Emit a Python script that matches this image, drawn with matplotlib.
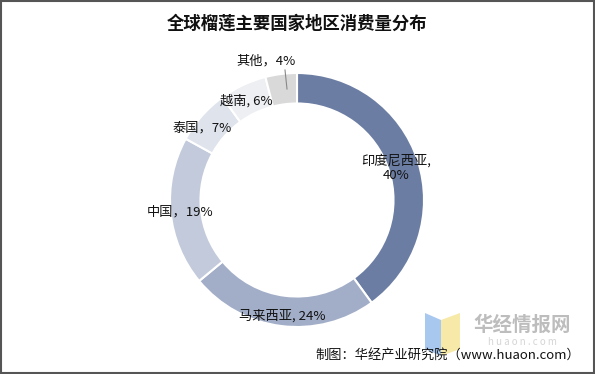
import matplotlib
matplotlib.use("Agg")
import matplotlib.pyplot as plt
from matplotlib.patches import Rectangle, Polygon

plt.rcParams['font.family'] = ['Noto Sans CJK SC', 'DejaVu Sans']

# 数据
paises = ['印度尼西亚', '马来西亚', '中国', '泰国', '越南', '其他']
valores = [40, 24, 19, 7, 6, 4]
cores = ['#6B7DA3', '#A2AEC7', '#C3CADB', '#DFE3EC', '#EEEFF3', '#D9D9D9']

W, H = 595, 374
fig = plt.figure(figsize=(W / 100, H / 100), dpi=100)

# donut: centro (297, 200) px, raio 127 px
cx, cy, R = 297, 200, 127
ax = fig.add_axes([(cx - R) / W, (H - cy - R) / H, 2 * R / W, 2 * R / H])
ax.pie(valores, colors=cores, startangle=90, counterclock=False, radius=1,
       wedgeprops=dict(width=0.24, edgecolor='white', linewidth=1.5))
ax.set_xlim(-1, 1)
ax.set_ylim(-1, 1)
ax.set_aspect('equal')
ax.axis('off')

def px(x, y):
    return x / W, 1 - y / H

# rotulos
rotulos = [
    ('印度尼西亚,\n40%', 396, 168, 'center'),
    ('马来西亚, 24%', 282, 316, 'center'),
    ('中国，19%', 180, 212, 'center'),
    ('泰国，7%', 202, 128, 'center'),
    ('越南, 6%', 246, 101, 'center'),
    ('其他，4%', 266, 61, 'center'),
]
for txt, x, y, ha in rotulos:
    fig.text(*px(x, y), txt, ha=ha, va='center', fontsize=9.5,
             color='#111111', linespacing=1.2)

# linha guia "其他"
fig.add_artist(plt.Line2D([285 / W, 287 / W], [1 - 70 / H, 1 - 89 / H],
                          color='#888888', linewidth=0.8))

# titulo
fig.text(*px(297, 24), '全球榴莲主要国家地区消费量分布', ha='center', va='center',
         fontsize=12.5, fontweight='bold', color='#111111')

# marca d'agua
fig.add_artist(Polygon([px(425, 313), px(441, 320), px(441, 356), px(425, 349)],
                       closed=True, facecolor='#A9C8F0', edgecolor='none'))
fig.add_artist(Polygon([px(441, 320), px(460, 313), px(460, 349), px(441, 356)],
                       closed=True, facecolor='#F7E9A8', edgecolor='none'))
fig.text(*px(522, 325), '华经情报网', ha='center', va='center', fontsize=14,
         fontweight='bold', color='#BDBDBD')
fig.text(*px(522, 342), 'h u a o n . c o m', ha='center', va='center', fontsize=7,
         color='#D5D5D5')

# fonte
fig.text(*px(580, 355), '制图：华经产业研究院（www.huaon.com）', ha='right', va='center',
         fontsize=9.5, color='#111111')

# borda
fig.add_artist(Rectangle((0.002, 0.003), 0.996, 0.994, transform=fig.transFigure,
                         fill=False, edgecolor='#555555', linewidth=1.5))

fig.savefig('out.png', dpi=100)
